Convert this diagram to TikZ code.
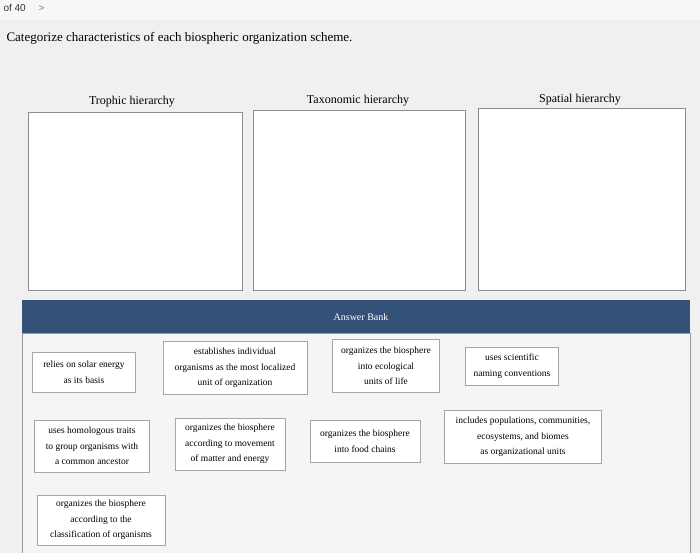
\documentclass[tikz,border=0pt]{standalone}
\usepackage{fontspec}
\setmainfont{Liberation Serif}
\setsansfont{Liberation Sans}
\begin{document}
\begin{tikzpicture}[x=1pt,y=-1pt,
  card/.style={draw=black!35,fill=white,align=center,font=\fontsize{9.5}{15.5}\selectfont,inner sep=0pt},
  target/.style={draw=black!45,fill=white,line width=0.8pt},
  head/.style={font=\fontsize{12}{14}\selectfont}]
\useasboundingbox (0,0) rectangle (700,553);
\fill[black!6] (0,0) rectangle (700,553);
\fill[black!3] (0,0) rectangle (700,20);
\node[anchor=west,font=\sffamily\fontsize{10}{12}\selectfont,text=black!80] (nav) at (0,8) {of 40 \quad\textcolor{black!50}{>}};
\node[anchor=west,font=\fontsize{13}{15}\selectfont] (title) at (3,38) {Categorize characteristics of each biospheric organization scheme.};
\draw[target] (28,112) rectangle (242,290);
\draw[target] (253,110) rectangle (465,290);
\draw[target] (478,108) rectangle (685,290);
\node[head] (h1) at (132,102) {Trophic hierarchy};
\node[head] (h2) at (358,101) {Taxonomic hierarchy};
\node[head] (h3) at (580,100) {Spatial hierarchy};
\draw[black!40,fill=black!4] (22,333) rectangle (690,553);
\fill[fill={rgb,255:red,52;green,82;blue,120}] (22,300) rectangle (690,333);
\node[text=white,font=\fontsize{10}{12}\selectfont] (ab) at (361,317) {Answer Bank};
\node[card,minimum width=103,minimum height=40] (c1) at (84,372) {relies on solar energy\\as its basis};
\node[card,minimum width=144,minimum height=53] (c2) at (235,368) {establishes individual\\organisms as the most localized\\unit of organization};
\node[card,minimum width=107,minimum height=53] (c3) at (386,366) {organizes the biosphere\\into ecological\\units of life};
\node[card,minimum width=93,minimum height=38] (c4) at (512,366) {uses scientific\\naming conventions};
\node[card,minimum width=115,minimum height=52] (c5) at (92,446) {uses homologous traits\\to group organisms with\\a common ancestor};
\node[card,minimum width=110,minimum height=52] (c6) at (230,444) {organizes the biosphere\\according to movement\\of matter and energy};
\node[card,minimum width=110,minimum height=42] (c7) at (365,441) {organizes the biosphere\\into food chains};
\node[card,minimum width=157,minimum height=53] (c8) at (523,437) {includes populations, communities,\\ecosystems, and biomes\\as organizational units};
\node[card,minimum width=128,minimum height=50] (c9) at (101,520) {organizes the biosphere\\according to the\\classification of organisms};
\end{tikzpicture}
\end{document}
